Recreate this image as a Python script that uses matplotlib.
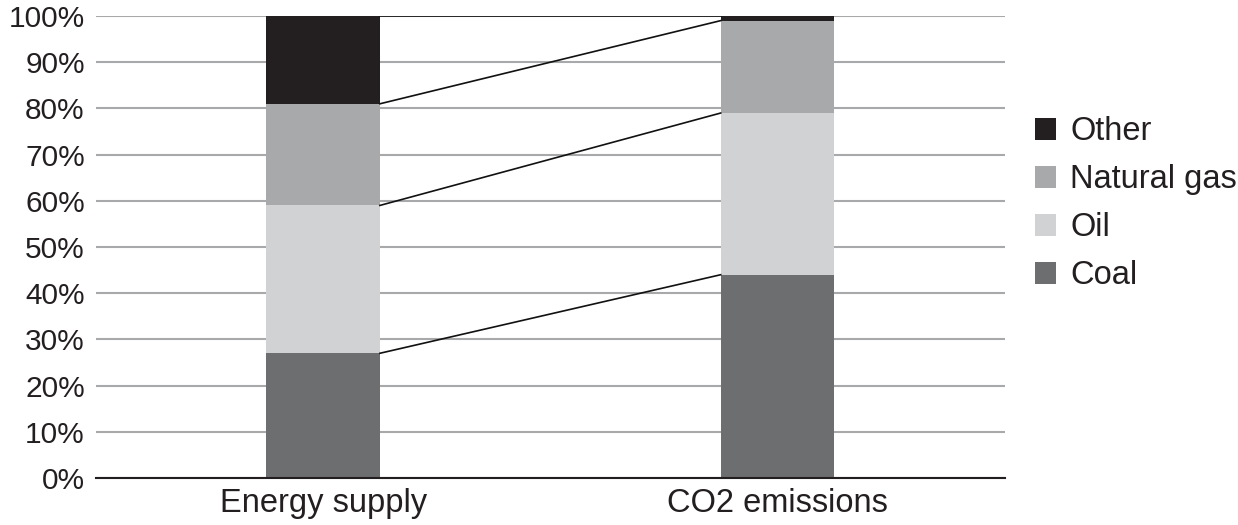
import numpy as np
import matplotlib
matplotlib.use('Agg')
import matplotlib.pyplot as plt
from matplotlib.patches import Patch

plt.rcParams['font.family'] = ['Liberation Sans', 'DejaVu Sans']

categories = ['Energy supply', 'CO2 emissions']
sources = ['Coal', 'Oil', 'Natural gas', 'Other']
shares = {
    'Coal': [27, 44],
    'Oil': [32, 35],
    'Natural gas': [22, 20],
    'Other': [19, 1],
}
colors = {
    'Coal': '#6d6e70',
    'Oil': '#d1d2d4',
    'Natural gas': '#a7a9ab',
    'Other': '#231f20',
}
y_ticks = list(range(0, 101, 10))


def main():
    fig = plt.figure(figsize=(12.38, 5.25), dpi=100)
    ax = fig.add_axes([0.0775, 0.0895, 0.734, 0.88])

    x = np.arange(len(categories))
    width = 0.25
    bottom = np.zeros(len(categories))
    tops = []
    for s in sources:
        vals = np.array(shares[s], dtype=float)
        ax.bar(x, vals, width, bottom=bottom, color=colors[s], zorder=3)
        bottom = bottom + vals
        tops.append(bottom.copy())

    # connecting lines between segment boundaries
    for t in tops:
        ax.plot([x[0] + width / 2, x[1] - width / 2], [t[0], t[1]],
                color='#111111', lw=1.2, zorder=4)

    ax.set_xlim(-0.5, 1.5)
    ax.set_ylim(0, 100)
    ax.set_yticks(y_ticks)
    ax.set_yticklabels([f'{v}%' for v in y_ticks])
    ax.set_xticks(x)
    ax.set_xticklabels(categories)
    ax.tick_params(axis='both', length=0, colors='#231f20')
    ax.tick_params(axis='y', pad=8, labelsize=21.5)
    ax.tick_params(axis='x', pad=7, labelsize=23.5)
    ax.yaxis.grid(True, color='#a7a9ab', lw=1.5, zorder=0)
    for sp in ['top', 'right', 'left']:
        ax.spines[sp].set_visible(False)
    ax.spines['bottom'].set_color('#231f20')
    ax.spines['bottom'].set_linewidth(1.5)
    ax.spines['bottom'].set_zorder(5)

    handles = [Patch(facecolor=colors[s], label=s) for s in reversed(sources)]
    fig.legend(handles=handles, loc='center left', bbox_to_anchor=(0.8125, 0.612),
               frameon=False, fontsize=23.5, handlelength=0.65, handleheight=0.65,
               handletextpad=0.43, labelspacing=0.52, labelcolor='#231f20')

    fig.savefig('out.png', dpi=100)
    plt.close(fig)


if __name__ == '__main__':
    main()
